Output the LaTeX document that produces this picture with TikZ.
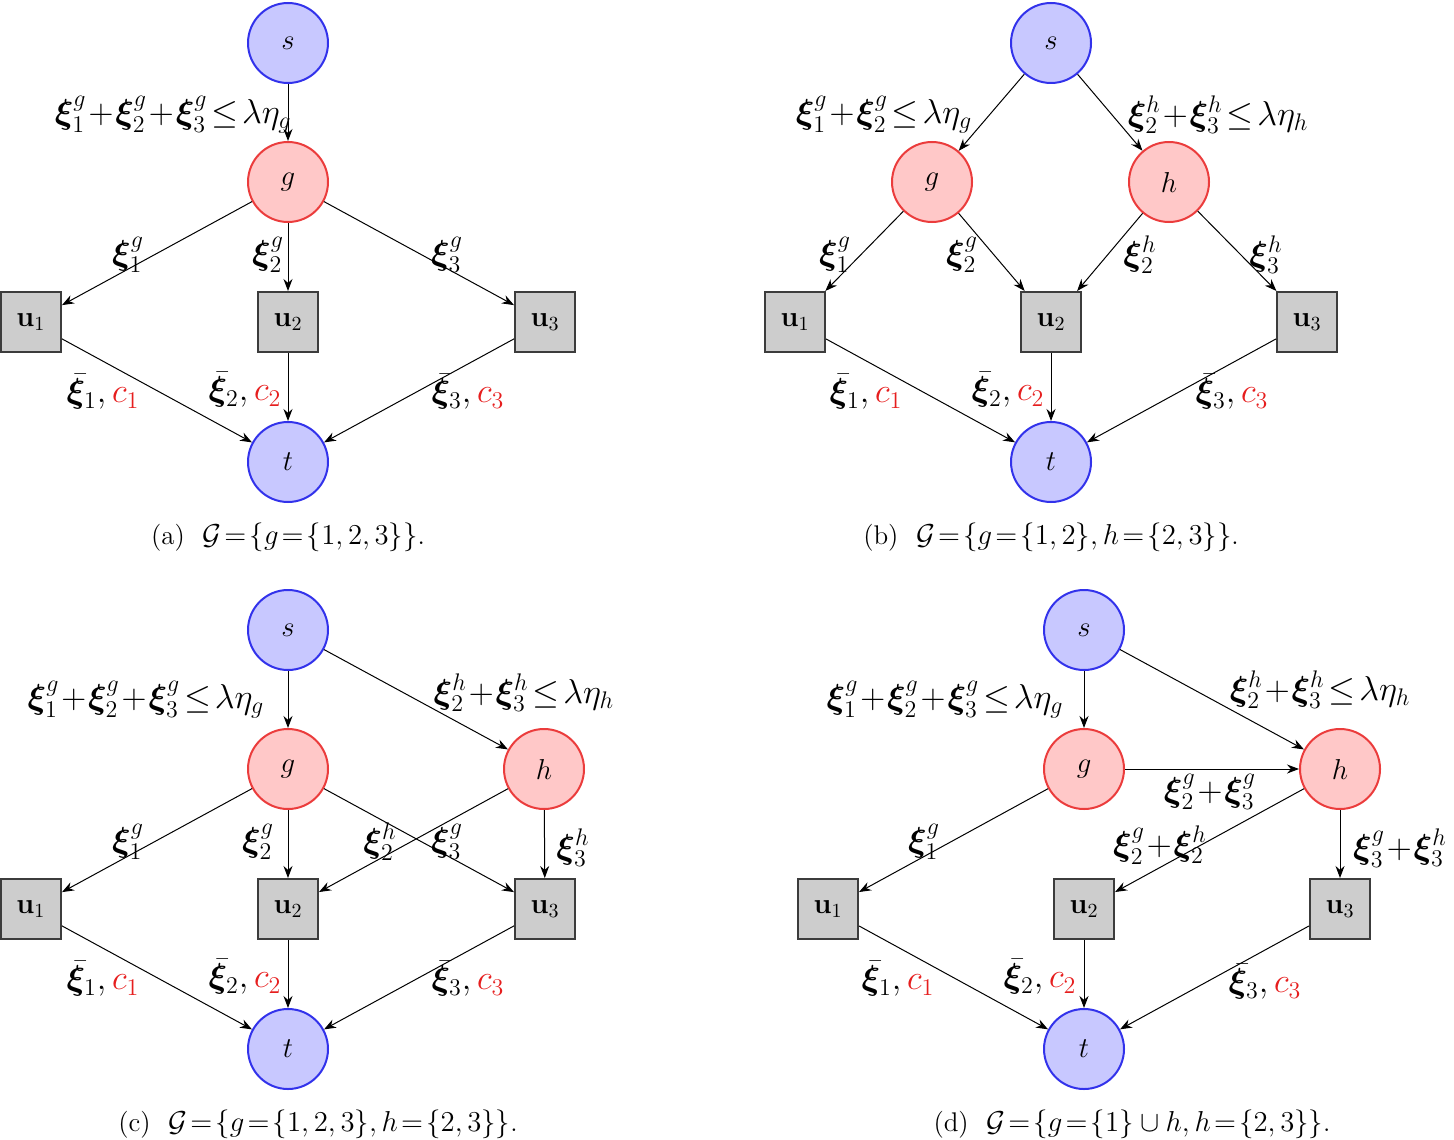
\documentclass[tikz,border=0pt]{standalone}
\usepackage{amsmath,amssymb,bm}
\usetikzlibrary{arrows.meta}
\begin{document}
\begin{tikzpicture}[x=0.5pt,y=-0.5pt,
 bc/.style={circle,draw={rgb,255:red,50;green,50;blue,235},fill={rgb,255:red,200;green,200;blue,255},line width=1pt,minimum size=40pt,inner sep=0pt,font=\Large},
 rc/.style={circle,draw={rgb,255:red,235;green,60;blue,60},fill={rgb,255:red,255;green,200;blue,200},line width=1pt,minimum size=40pt,inner sep=0pt,font=\Large},
 sq/.style={rectangle,draw={rgb,255:red,60;green,60;blue,60},fill={rgb,255:red,205;green,205;blue,205},line width=1pt,minimum size=30pt,inner sep=0pt,font=\Large},
 ar/.style={-{Stealth[length=6pt,width=4.5pt]},line width=0.5pt},
 lb/.style={font=\fontsize{16.5}{20}\selectfont,inner sep=0pt},
 captxt/.style={font=\fontsize{13.5}{16}\selectfont}]
\useasboundingbox (0,0) rectangle (1454,1139);
\newcommand{\xx}[2]{\bm{\xi}_{#1}^{#2}}
\newcommand{\xb}[1]{\bar{\bm{\xi}}_{#1}}
\definecolor{cr}{RGB}{230,30,30}
% panel a
\node[bc] (as) at (288,43) {$s$};
\node[rc] (ag) at (288,182) {$g$};
\node[sq] (au1) at (31,322) {$\mathbf{u}_1$};
\node[sq] (au2) at (288,322) {$\mathbf{u}_2$};
\node[sq] (au3) at (545,322) {$\mathbf{u}_3$};
\node[bc] (at) at (288,462) {$t$};
\draw[ar] (as)--(ag); \draw[ar] (ag)--(au1); \draw[ar] (ag)--(au2); \draw[ar] (ag)--(au3);
\draw[ar] (au1)--(at); \draw[ar] (au2)--(at); \draw[ar] (au3)--(at);
\node[lb,anchor=east] (al0) at (292,115) {$\xx1g\!+\!\xx2g\!+\!\xx3g\!\le\!\lambda\eta_g$};
\node[lb] (al1) at (128,255) {$\xx1g$};
\node[lb] (al2) at (268,255) {$\xx2g$};
\node[lb] (al3) at (447,255) {$\xx3g$};
\node[lb] (al4) at (103,392) {$\xb1,\textcolor{cr}{c_1}$};
\node[lb] (al5) at (245,390) {$\xb2,\textcolor{cr}{c_2}$};
\node[lb] (al6) at (468,392) {$\xb3,\textcolor{cr}{c_3}$};
\node[captxt] (acap) at (288,537) {(a)\ \ $\mathcal{G}\!=\!\{g\!=\!\{1,2,3\}\}$.};
% panel b
\node[bc] (bs) at (1051,43) {$s$};
\node[rc] (bg) at (932,182) {$g$};
\node[rc] (bh) at (1169,182) {$h$};
\node[sq] (bu1) at (795,322) {$\mathbf{u}_1$};
\node[sq] (bu2) at (1051,322) {$\mathbf{u}_2$};
\node[sq] (bu3) at (1307,322) {$\mathbf{u}_3$};
\node[bc] (bt) at (1051,462) {$t$};
\draw[ar] (bs)--(bg); \draw[ar] (bs)--(bh);
\draw[ar] (bg)--(bu1); \draw[ar] (bg)--(bu2); \draw[ar] (bh)--(bu2); \draw[ar] (bh)--(bu3);
\draw[ar] (bu1)--(bt); \draw[ar] (bu2)--(bt); \draw[ar] (bu3)--(bt);
\node[lb] (bl0) at (884,115) {$\xx1g\!+\!\xx2g\!\le\!\lambda\eta_g$};
\node[lb] (bl0b) at (1218,115) {$\xx2h\!+\!\xx3h\!\le\!\lambda\eta_h$};
\node[lb] (bl1) at (835,255) {$\xx1g$};
\node[lb] (bl2) at (962,255) {$\xx2g$};
\node[lb] (bl3) at (1140,255) {$\xx2h$};
\node[lb] (bl3b) at (1266,255) {$\xx3h$};
\node[lb] (bl4) at (866,392) {$\xb1,\textcolor{cr}{c_1}$};
\node[lb] (bl5) at (1008,390) {$\xb2,\textcolor{cr}{c_2}$};
\node[lb] (bl6) at (1232,392) {$\xb3,\textcolor{cr}{c_3}$};
\node[captxt] (bcap) at (1051,537) {(b)\ \ $\mathcal{G}\!=\!\{g\!=\!\{1,2\},h\!=\!\{2,3\}\}$.};
% panel c
\node[bc] (cs) at (288,630) {$s$};
\node[rc] (cg) at (288,769) {$g$};
\node[rc] (ch) at (544,769) {$h$};
\node[sq] (cu1) at (31,909) {$\mathbf{u}_1$};
\node[sq] (cu2) at (288,909) {$\mathbf{u}_2$};
\node[sq] (cu3) at (545,909) {$\mathbf{u}_3$};
\node[bc] (ct) at (288,1049) {$t$};
\draw[ar] (cs)--(cg); \draw[ar] (cs)--(ch);
\draw[ar] (cg)--(cu1); \draw[ar] (cg)--(cu2); \draw[ar] (cg)--(cu3);
\draw[ar] (ch)--(cu2); \draw[ar] (ch)--(cu3);
\draw[ar] (cu1)--(ct); \draw[ar] (cu2)--(ct); \draw[ar] (cu3)--(ct);
\node[lb] (cl0) at (146,700) {$\xx1g\!+\!\xx2g\!+\!\xx3g\!\le\!\lambda\eta_g$};
\node[lb] (cl0b) at (524,693) {$\xx2h\!+\!\xx3h\!\le\!\lambda\eta_h$};
\node[lb] (cl1) at (128,842) {$\xx1g$};
\node[lb] (cl2) at (258,842) {$\xx2g$};
\node[lb] (cl3) at (380,842) {$\xx2h$};
\node[lb] (cl3b) at (447,842) {$\xx3g$};
\node[lb] (cl3c) at (573,848) {$\xx3h$};
\node[lb] (cl4) at (103,979) {$\xb1,\textcolor{cr}{c_1}$};
\node[lb] (cl5) at (245,977) {$\xb2,\textcolor{cr}{c_2}$};
\node[lb] (cl6) at (468,979) {$\xb3,\textcolor{cr}{c_3}$};
\node[captxt] (ccap) at (318,1124) {(c)\ \ $\mathcal{G}\!=\!\{g\!=\!\{1,2,3\},h\!=\!\{2,3\}\}$.};
% panel d
\node[bc] (ds) at (1084,630) {$s$};
\node[rc] (dg) at (1084,769) {$g$};
\node[rc] (dh) at (1340,769) {$h$};
\node[sq] (du1) at (828,909) {$\mathbf{u}_1$};
\node[sq] (du2) at (1084,909) {$\mathbf{u}_2$};
\node[sq] (du3) at (1340,909) {$\mathbf{u}_3$};
\node[bc] (dt) at (1084,1049) {$t$};
\draw[ar] (ds)--(dg); \draw[ar] (ds)--(dh); \draw[ar] (dg)--(dh);
\draw[ar] (dg)--(du1); \draw[ar] (dh)--(du2); \draw[ar] (dh)--(du3);
\draw[ar] (du1)--(dt); \draw[ar] (du2)--(dt); \draw[ar] (du3)--(dt);
\node[lb] (dl0) at (945,700) {$\xx1g\!+\!\xx2g\!+\!\xx3g\!\le\!\lambda\eta_g$};
\node[lb] (dl0b) at (1320,690) {$\xx2h\!+\!\xx3h\!\le\!\lambda\eta_h$};
\node[lb] (dl0c) at (1210,792) {$\xx2g\!+\!\xx3g$};
\node[lb] (dl1) at (924,842) {$\xx1g$};
\node[lb] (dl2) at (1160,845) {$\xx2g\!+\!\xx2h$};
\node[lb] (dl3) at (1400,848) {$\xx3g\!+\!\xx3h$};
\node[lb] (dl4) at (898,979) {$\xb1,\textcolor{cr}{c_1}$};
\node[lb] (dl5) at (1040,977) {$\xb2,\textcolor{cr}{c_2}$};
\node[lb] (dl6) at (1265,982) {$\xb3,\textcolor{cr}{c_3}$};
\node[captxt] (dcap) at (1132,1124) {(d)\ \ $\mathcal{G}\!=\!\{g\!=\!\{1\}\cup h,h\!=\!\{2,3\}\}$.};
\end{tikzpicture}
\end{document}
